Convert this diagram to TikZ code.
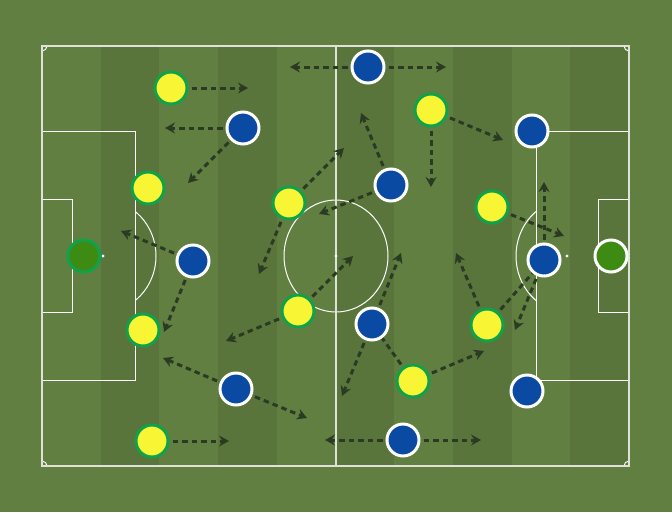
\documentclass[tikz,border=0pt]{standalone}
\usetikzlibrary{arrows.meta,shadows}
\definecolor{bgl}{HTML}{627F42}
\definecolor{bgd}{HTML}{5A753C}
\definecolor{lineB}{HTML}{DDE3D6}
\definecolor{arrc}{HTML}{2B3A22}
\definecolor{ylw}{HTML}{F8F634}
\definecolor{grn}{HTML}{10A24A}
\definecolor{blu}{HTML}{0B4AA3}
\definecolor{gkc}{HTML}{3E8B14}
\begin{document}
\begin{tikzpicture}[x=1pt,y=-1pt,
  player/.style={circle,minimum size=32pt,inner sep=0pt,line width=3pt,draw,
    drop shadow={opacity=0.25,shadow xshift=0.6pt,shadow yshift=-1.2pt}},
  yp/.style={player,fill=ylw,draw=grn},
  bp/.style={player,fill=blu,draw=white},
  gky/.style={player,fill=gkc,draw=grn},
  gkb/.style={player,fill=gkc,draw=white},
  arr/.style={draw=arrc,line width=3pt,dash pattern=on 5.5pt off 4pt,
    -{Stealth[length=10pt,width=11pt,inset=3.5pt]},shorten <=3pt},
  arrline/.style={draw=arrc,line width=3pt,dash pattern=on 5.5pt off 4pt,shorten <=3pt},
  pline/.style={draw=white,line width=1pt},
  spot/.style={circle,fill=white,inner sep=0pt,minimum size=3.4pt}
]
\useasboundingbox (0,0) rectangle (672,512);
% background and stripes
\fill[bgl] (0,0) rectangle (672,512);
\foreach \i in {1,3,5,7,9}
  \fill[bgd] ({42+58.7*\i},46) rectangle ({42+58.7*(\i+1)},466);
% pitch lines
\draw[pline] (42,131) rectangle (135,380);
\draw[pline] (42,199) rectangle (72,312);
\draw[pline] (536,131) rectangle (629,380);
\draw[pline] (598,199) rectangle (629,312);
\draw[pline] (336,256) ellipse [x radius=52pt, y radius=56pt];
\begin{scope}
  \clip (135,0) rectangle (300,512);
  \draw[pline] (103,256) ellipse [x radius=53pt, y radius=56pt];
\end{scope}
\begin{scope}
  \clip (400,0) rectangle (536,512);
  \draw[pline] (567,256) ellipse [x radius=51pt, y radius=56pt];
\end{scope}
\begin{scope}
  \clip (42,46) rectangle (629,466);
  \foreach \p in {(42,46),(629,46),(42,466),(629,466)}
    \draw[pline] \p circle (5pt);
\end{scope}
\draw[draw=lineB,line width=1.3pt] (336,46) -- (336,466);
\draw[draw=lineB,line width=1.7pt] (42,46) rectangle (629,466);
\node[spot] (ps1) at (103,256) {};
\node[spot] (ps2) at (567,256) {};
\node[spot] (cs) at (336,256) {};
% player positions
\coordinate (Y1) at (171,88);
\coordinate (Y2) at (148,188);
\coordinate (Y3) at (143,330);
\coordinate (Y4) at (152,441);
\coordinate (Y5) at (289,203);
\coordinate (Y6) at (298,311);
\coordinate (Y7) at (431,110);
\coordinate (Y8) at (492,207);
\coordinate (Y9) at (487,325);
\coordinate (Y10) at (413,381);
\coordinate (B1) at (243,128);
\coordinate (B2) at (193,261);
\coordinate (B3) at (236,389);
\coordinate (B4) at (368,67);
\coordinate (B5) at (391,185);
\coordinate (B6) at (372,324);
\coordinate (B7) at (403,440);
\coordinate (B8) at (532,131);
\coordinate (B9) at (544,260);
\coordinate (B10) at (527,391);
% player nodes (placed first as invisible anchors for arrows)
\begin{scope}
\foreach \n in {Y1,Y2,Y3,Y4,Y5,Y6,Y7,Y8,Y9,Y10,B1,B2,B3,B4,B5,B6,B7,B8,B9,B10}
  \node[circle,minimum size=32pt,inner sep=0pt,outer sep=1.5pt] (n\n) at (\n) {};
\end{scope}
% arrow targets
\coordinate (t1) at (248,88);
\coordinate (t2) at (165,128);
\coordinate (t3) at (188,183);
\coordinate (t4) at (121,231);
\coordinate (t5) at (164,332);
\coordinate (t6) at (163,358);
\coordinate (t7) at (307,418);
\coordinate (t8) at (229,441);
\coordinate (t9) at (344,148);
\coordinate (t10) at (259,274);
\coordinate (t11) at (361,113);
\coordinate (t12) at (319,214);
\coordinate (t13) at (353,256);
\coordinate (t14) at (226,341);
\coordinate (t15) at (401,253);
\coordinate (t16) at (342,396);
\coordinate (t17) at (484,351);
\coordinate (t18) at (456,253);
\coordinate (t19) at (544,182);
\coordinate (t20) at (515,330);
\coordinate (t21) at (564,236);
\coordinate (t22) at (431,187);
\coordinate (t23) at (503,140);
\coordinate (t24) at (446,67);
\coordinate (t25) at (290,67);
\coordinate (t26) at (325,440);
\coordinate (t27) at (481,440);
% arrows
\draw[arr] (nY1) -- (t1);
\draw[arr] (nB1) -- (t2);
\draw[arr] (nB1) -- (t3);
\draw[arr] (nB2) -- (t4);
\draw[arr] (nB2) -- (t5);
\draw[arr] (nB3) -- (t6);
\draw[arr] (nB3) -- (t7);
\draw[arr] (nY4) -- (t8);
\draw[arr] (nY5) -- (t9);
\draw[arr] (nY5) -- (t10);
\draw[arr] (nB5) -- (t11);
\draw[arr] (nB5) -- (t12);
\draw[arr] (nY6) -- (t13);
\draw[arr] (nY6) -- (t14);
\draw[arr] (nB6) -- (t15);
\draw[arr] (nB6) -- (t16);
\draw[arr] (nY10) -- (t17);
\draw[arrline] (nY10) -- (B6);
\draw[arr] (nY9) -- (t18);
\draw[arrline] (nY9) -- (B9);
\draw[arr] (nB9) -- (t19);
\draw[arr] (nB9) -- (t20);
\draw[arr] (nY8) -- (t21);
\draw[arr] (nY7) -- (t22);
\draw[arr] (nY7) -- (t23);
\draw[arr] (nB4) -- (t24);
\draw[arr] (nB4) -- (t25);
\draw[arr] (nB7) -- (t26);
\draw[arr] (nB7) -- (t27);
% players
\foreach \n in {Y1,Y2,Y3,Y4,Y5,Y6,Y7,Y8,Y9,Y10}
  \node[yp] (p\n) at (\n) {};
\foreach \n in {B1,B2,B3,B4,B5,B6,B7,B8,B9,B10}
  \node[bp] (p\n) at (\n) {};
\node[gky] (gkl) at (84,256) {};
\node[gkb] (gkr) at (611,256) {};
\end{tikzpicture}
\end{document}
